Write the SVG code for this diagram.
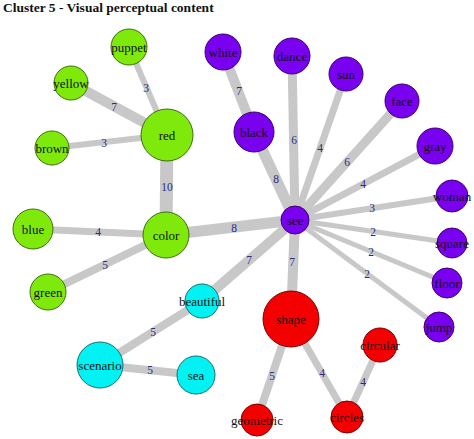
<svg xmlns="http://www.w3.org/2000/svg" width="474" height="439" viewBox="0 0 474 439">
<style>
.e{stroke:#c8c8c8;stroke-linecap:butt}
.el{font-family:"Liberation Serif",serif;font-size:11.5px;fill:#2a2a85;text-anchor:middle;dominant-baseline:central}
.nl{font-family:"Liberation Serif",serif;font-size:13px;fill:#111;text-anchor:middle;dominant-baseline:central}
.g{fill:#7fe90c;stroke:#3f6f10;stroke-width:1}
.p{fill:#7a00f0;stroke:#3a0070;stroke-width:1}
.c{fill:#00f2f2;stroke:#107070;stroke-width:1}
.r{fill:#f50000;stroke:#7a0000;stroke-width:1}
.t{font-family:"Liberation Serif",serif;font-size:13.5px;font-weight:bold;fill:#111}
</style>
<rect width="474" height="439" fill="#fff"/>
<text class="t" x="3" y="12">Cluster 5 - Visual perceptual content</text>
<g id="connectors">
<line class="e" x1="129" y1="47" x2="167" y2="135" stroke-width="6"/>
<line class="e" x1="71" y1="83" x2="167" y2="135" stroke-width="10"/>
<line class="e" x1="52" y1="148" x2="167" y2="135" stroke-width="6"/>
<line class="e" x1="167" y1="135" x2="166" y2="235" stroke-width="13"/>
<line class="e" x1="33" y1="229" x2="166" y2="235" stroke-width="7"/>
<line class="e" x1="48" y1="292" x2="166" y2="235" stroke-width="8"/>
<line class="e" x1="166" y1="235" x2="295" y2="220" stroke-width="11"/>
<line class="e" x1="223" y1="52" x2="254" y2="132" stroke-width="10"/>
<line class="e" x1="254" y1="132" x2="295" y2="220" stroke-width="11"/>
<line class="e" x1="292" y1="56" x2="295" y2="220" stroke-width="9"/>
<line class="e" x1="346" y1="74" x2="295" y2="220" stroke-width="7"/>
<line class="e" x1="402" y1="101" x2="295" y2="220" stroke-width="9"/>
<line class="e" x1="435" y1="146" x2="295" y2="220" stroke-width="7"/>
<line class="e" x1="452" y1="196" x2="295" y2="220" stroke-width="6"/>
<line class="e" x1="452" y1="243" x2="295" y2="220" stroke-width="5"/>
<line class="e" x1="447" y1="283" x2="295" y2="220" stroke-width="5"/>
<line class="e" x1="439" y1="327" x2="295" y2="220" stroke-width="5"/>
<line class="e" x1="295" y1="220" x2="291" y2="319" stroke-width="10"/>
<line class="e" x1="295" y1="220" x2="202" y2="301" stroke-width="10"/>
<line class="e" x1="202" y1="301" x2="100" y2="365" stroke-width="8"/>
<line class="e" x1="100" y1="365" x2="196" y2="375" stroke-width="8"/>
<line class="e" x1="291" y1="319" x2="257" y2="420" stroke-width="8"/>
<line class="e" x1="291" y1="319" x2="347" y2="417" stroke-width="7"/>
<line class="e" x1="380" y1="345" x2="347" y2="417" stroke-width="7"/>
<text class="el" x="146" y="88">3</text>
<text class="el" x="114" y="107">7</text>
<text class="el" x="104" y="143">3</text>
<text class="el" x="167" y="187">10</text>
<text class="el" x="98" y="232">4</text>
<text class="el" x="105" y="265">5</text>
<text class="el" x="234" y="228">8</text>
<text class="el" x="239" y="91">7</text>
<text class="el" x="276" y="179">8</text>
<text class="el" x="294" y="140">6</text>
<text class="el" x="320" y="148">4</text>
<text class="el" x="347" y="162">6</text>
<text class="el" x="363" y="184">4</text>
<text class="el" x="372" y="208">3</text>
<text class="el" x="373" y="232">2</text>
<text class="el" x="371" y="252">2</text>
<text class="el" x="367" y="274">2</text>
<text class="el" x="292" y="262">7</text>
<text class="el" x="249" y="260">7</text>
<text class="el" x="153" y="332">5</text>
<text class="el" x="150" y="370">5</text>
<text class="el" x="272" y="376">5</text>
<text class="el" x="322" y="373">4</text>
<text class="el" x="363" y="382">4</text>
</g>
<g id="n-puppet"><circle class="g" cx="129" cy="47" r="18"/><text class="nl" x="129" y="47">puppet</text></g>
<g id="n-yellow"><circle class="g" cx="71" cy="83" r="17"/><text class="nl" x="71" y="83">yellow</text></g>
<g id="n-red"><circle class="g" cx="167" cy="135" r="26"/><text class="nl" x="167" y="135">red</text></g>
<g id="n-brown"><circle class="g" cx="52" cy="148" r="17"/><text class="nl" x="52" y="148">brown</text></g>
<g id="n-blue"><circle class="g" cx="33" cy="229" r="20"/><text class="nl" x="33" y="229">blue</text></g>
<g id="n-color"><circle class="g" cx="166" cy="235" r="23"/><text class="nl" x="166" y="235">color</text></g>
<g id="n-green"><circle class="g" cx="48" cy="292" r="18"/><text class="nl" x="48" y="292">green</text></g>
<g id="n-white"><circle class="p" cx="223" cy="52" r="18"/><text class="nl" x="223" y="52">white</text></g>
<g id="n-dance"><circle class="p" cx="292" cy="56" r="18"/><text class="nl" x="292" y="56">dance</text></g>
<g id="n-sun"><circle class="p" cx="346" cy="74" r="17"/><text class="nl" x="346" y="74">sun</text></g>
<g id="n-face"><circle class="p" cx="402" cy="101" r="17"/><text class="nl" x="402" y="101">face</text></g>
<g id="n-black"><circle class="p" cx="254" cy="132" r="20"/><text class="nl" x="254" y="132">black</text></g>
<g id="n-gray"><circle class="p" cx="435" cy="146" r="18"/><text class="nl" x="435" y="146">gray</text></g>
<g id="n-woman"><circle class="p" cx="452" cy="196" r="16"/><text class="nl" x="452" y="196">woman</text></g>
<g id="n-see"><circle class="p" cx="295" cy="220" r="14"/><text class="nl" x="295" y="220">see</text></g>
<g id="n-square"><circle class="p" cx="452" cy="243" r="15"/><text class="nl" x="452" y="243">square</text></g>
<g id="n-floor"><circle class="p" cx="447" cy="283" r="15"/><text class="nl" x="447" y="283">floor</text></g>
<g id="n-jump"><circle class="p" cx="439" cy="327" r="15"/><text class="nl" x="439" y="327">jump</text></g>
<g id="n-beautiful"><circle class="c" cx="202" cy="301" r="17"/><text class="nl" x="202" y="301">beautiful</text></g>
<g id="n-scenario"><circle class="c" cx="100" cy="365" r="23"/><text class="nl" x="100" y="365">scenario</text></g>
<g id="n-sea"><circle class="c" cx="196" cy="375" r="19"/><text class="nl" x="196" y="375">sea</text></g>
<g id="n-shape"><circle class="r" cx="291" cy="319" r="28"/><text class="nl" x="291" y="319">shape</text></g>
<g id="n-circular"><circle class="r" cx="380" cy="345" r="17"/><text class="nl" x="380" y="345">circular</text></g>
<g id="n-circles"><circle class="r" cx="347" cy="417" r="16"/><text class="nl" x="347" y="417">circles</text></g>
<g id="n-geometric"><circle class="r" cx="257" cy="420" r="16"/><text class="nl" x="257" y="420">geometric</text></g>
</svg>
